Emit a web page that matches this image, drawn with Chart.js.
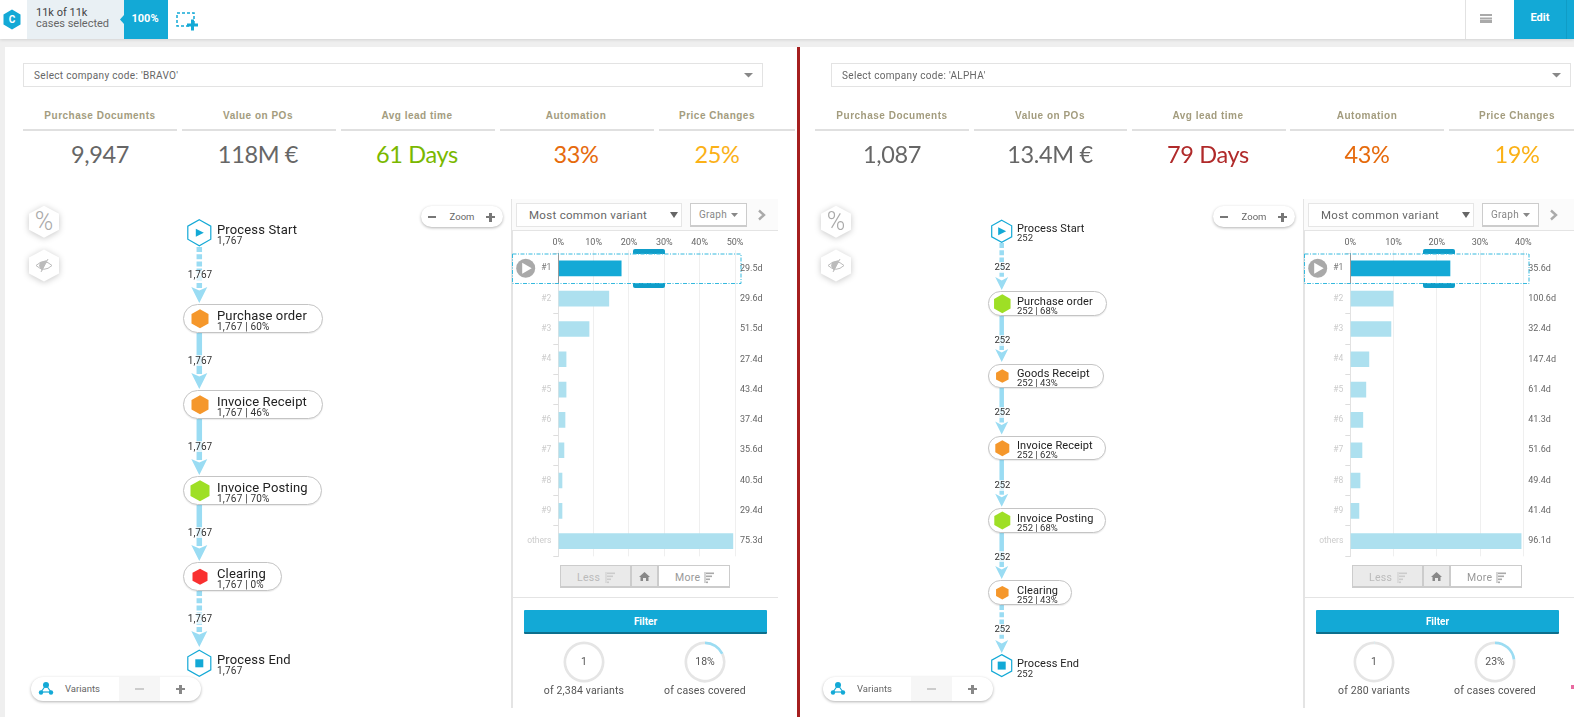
<!DOCTYPE html>
<html><head><meta charset="utf-8">
<script src="https://cdn.jsdelivr.net/npm/chart.js@4"></script>
<style>
html,body{margin:0;padding:0;width:1574px;height:717px;overflow:hidden;background:#efefef;font-family:Roboto,sans-serif}
#root{position:absolute;left:0;top:0;width:1574px;height:717px}
.b{position:absolute;box-sizing:border-box}
.t{position:absolute;white-space:nowrap;transform:translateY(-50%);line-height:1.2}
canvas{position:absolute;display:block}
svg{position:absolute;left:0;top:0}
</style></head><body><div id="root"></div>
<script>
// ---------- data ----------
const variantLabels = ['#1','#2','#3','#4','#5','#6','#7','#8','#9','others'];
const bravoShares = [17.8,14.3,8.7,2.2,2.2,1.9,1.6,1.05,1.05,49.4];
const bravoDurations = ['29.5d','29.6d','51.5d','27.4d','43.4d','37.4d','35.6d','40.5d','29.4d','75.3d'];
const alphaShares = [23.05,9.9,9.4,4.3,3.6,2.9,2.7,2.25,2.0,39.5];
const alphaDurations = ['35.6d','100.6d','32.4d','147.4d','61.4d','41.3d','51.6d','49.4d','41.4d','96.1d'];
const kpiTitles = ['Purchase Documents','Value on POs','Avg lead time','Automation','Price Changes'];
const bravoKpis = ['9,947','118M €','61 Days','33%','25%'];
const alphaKpis = ['1,087','13.4M €','79 Days','43%','19%'];
const bravoVariantsTotal = 2384, alphaVariantsTotal = 280, variantsSelected = 1;
const bravoCovered = 18, alphaCovered = 23;
const bravoSteps = [['Process Start','1,767',''],['Purchase order','1,767 | 60%','o'],['Invoice Receipt','1,767 | 46%','o'],['Invoice Posting','1,767 | 70%','g'],['Clearing','1,767 | 0%','r'],['Process End','1,767','']];
const alphaSteps = [['Process Start','252',''],['Purchase order','252 | 68%','g'],['Goods Receipt','252 | 43%','o'],['Invoice Receipt','252 | 62%','o'],['Invoice Posting','252 | 68%','g'],['Clearing','252 | 43%','o'],['Process End','252','']];
const bravoEdge = '1,767', alphaEdge = '252';

// ---------- helpers ----------
const BLUE='#13a9d6', root=document.getElementById('root');
function box(x,y,w,h,css){const d=document.createElement('div');d.className='b';d.style.cssText=`left:${x}px;top:${y}px;width:${w}px;height:${h}px;${css||''}`;root.appendChild(d);return d}
function txt(s,x,y,size,color,o){o=o||{};const d=document.createElement('div');d.className='t';d.textContent=s;
 const tx=o.align==='c'?'translate(-50%,-50%)':o.align==='r'?'translate(-100%,-50%)':'translateY(-50%)';
 d.style.cssText=`left:${x}px;top:${y}px;font-size:${size}px;color:${color};transform:${tx};font-weight:${o.w||400};font-family:${o.f||'Roboto,sans-serif'};letter-spacing:${o.ls||0}px`;root.appendChild(d);return d}
const NS='http://www.w3.org/2000/svg';
function svgLayer(){const s=document.createElementNS(NS,'svg');s.setAttribute('width',1574);s.setAttribute('height',717);root.appendChild(s);return s}
function add(s,n,a){const e=document.createElementNS(NS,n);for(const k in a)e.setAttribute(k,a[k]);s.appendChild(e);return e}
function hexPts(cx,cy,w,h){const q=h/4,hw=w/2,hh=h/2;return [[cx,cy-hh],[cx+hw,cy-q],[cx+hw,cy+q],[cx,cy+hh],[cx-hw,cy+q],[cx-hw,cy-q]].map(p=>p.join(',')).join(' ')}

// ---------- page frame ----------
box(5,47,792,670,'background:#fff');
box(800,47,774,670,'background:#fff');
box(797,47,3,670,'background:#a51f1f');
box(0,0,1574,39,'background:#fff;box-shadow:0 1px 3px rgba(0,0,0,.12)');
box(27,0,97,39,'background:#e9f0f4');
box(124,0,44,39,'background:'+BLUE);
box(1465,0,1,39,'background:#e2e2e2');
box(1514,0,60,39,'background:'+BLUE);
box(1566,0,1,39,'background:#0f9cc6');
const s0=svgLayer();
add(s0,'polygon',{points:hexPts(12,19.5,17,20),fill:BLUE});
add(s0,'polygon',{points:'120,19.5 124,15 124,24',fill:BLUE});
add(s0,'rect',{x:177,y:13,width:17,height:13,fill:'none',stroke:BLUE,'stroke-width':1.5,'stroke-dasharray':'3 2'});
add(s0,'rect',{x:187,y:23.5,width:11,height:3,fill:BLUE});
add(s0,'rect',{x:191,y:19.5,width:3,height:11,fill:BLUE});
for(const y of [14,17.5,20]) add(s0,'rect',{x:1480,y:y,width:12,height:y===20?3:2,fill:'#aaa'});
txt('11k of 11k',36,13,11,'#444');
txt('cases selected',36,24,11,'#666');
txt('100%',145,19,11,'#fff',{align:'c',w:700});
txt('C',12,19.5,10,'#fff',{align:'c',w:700});
txt('Edit',1540,18,11,'#fff',{align:'c',w:700});

// ---------- one side of the dashboard ----------
function side(cfg){
 const ox=cfg.ox;
 // selector
 box(cfg.selL,63,cfg.selR-cfg.selL,24,'background:#fff;border:1px solid #e3e3e3');
 txt(cfg.selText,cfg.selL+11,75.5,10,'#666',{ls:.32});
 const s=svgLayer();
 add(s,'polygon',{points:`${cfg.selR-19},73 ${cfg.selR-10},73 ${cfg.selR-14.5},77.5`,fill:'#888'});
 // KPI strip
 const colors=cfg.kpiColors;
 kpiTitles.forEach((k,i)=>{
  txt(k,cfg.kpiCx[i],115.5,10,'#a39c7e',{align:'c',w:700,ls:.5,f:'"Liberation Sans",sans-serif'});
  box(cfg.kpiL[i],129,cfg.kpiW[i],1.5,'background:#e0e0e0');
  txt(cfg.kpis[i],cfg.kpiCx[i],153.5,23.5,colors[i],{align:'c',w:400,ls:-.35,f:'Lato,sans-serif'});
 });
 // round helpers
 for(const [cy,h] of [[221.7,32],[265.5,32]]){
  add(s,'polygon',{points:hexPts(cfg.hexX,cy,30,h),fill:'#fff',style:'filter:drop-shadow(0 1px 3px rgba(0,0,0,.22))'});
 }
 txt('%',cfg.hexX,221.5,25,'#aaa',{align:'c',w:300});
 add(s,'path',{d:`M${cfg.hexX-8} 265.5 Q${cfg.hexX} 258 ${cfg.hexX+8} 265.5 Q${cfg.hexX} 273 ${cfg.hexX-8} 265.5Z`,fill:'none',stroke:'#bbb','stroke-width':1});
 add(s,'path',{d:`M${cfg.hexX-4} 262 L${cfg.hexX+3} 260 L${cfg.hexX-2} 271 L${cfg.hexX-5} 266Z`,fill:'#bbb'});
 add(s,'line',{x1:cfg.hexX+4,y1:259,x2:cfg.hexX-3,y2:272,stroke:'#bbb','stroke-width':1});
 // zoom pill
 box(cfg.zoomX,206,82,21,'background:#fff;border-radius:11px;box-shadow:0 1px 3px rgba(0,0,0,.3)');
 box(cfg.zoomX+7,216,8,2,'background:#777');
 txt('Zoom',cfg.zoomX+41,216.5,9.5,'#666',{align:'c'});
 box(cfg.zoomX+65,216,9,2.4,'background:#777');box(cfg.zoomX+68.3,212.6,2.4,9,'background:#777');
 // variants pill
 box(31+ox,677,170,24,'background:#fff;border-radius:12px;box-shadow:0 1px 3px rgba(0,0,0,.3)');
 box(119+ox,677,41,24,'background:#f6f6f6');
 const ic=svgLayer();
 add(ic,'line',{x1:46+ox,y1:685,x2:41+ox,y2:692,stroke:BLUE,'stroke-width':1.2});
 add(ic,'line',{x1:46+ox,y1:685,x2:51+ox,y2:692,stroke:BLUE,'stroke-width':1.2});
 add(ic,'line',{x1:41+ox,y1:692,x2:51+ox,y2:692,stroke:BLUE,'stroke-width':1.2});
 add(ic,'circle',{cx:46+ox,cy:685,r:3,fill:BLUE});add(ic,'circle',{cx:41+ox,cy:692.5,r:2.2,fill:BLUE});add(ic,'circle',{cx:51+ox,cy:692.5,r:2.2,fill:BLUE});
 txt('Variants',65+ox,688.5,9.5,'#666');
 box(135+ox,688,9,2.4,'background:#ccc');
 box(176+ox,688,9,2.4,'background:#888');box(179.3+ox,684.7,2.4,9,'background:#888');
 // right panel chrome
 const px=ox+512;
 box(px-1,199,1.5,509,'background:#e4e4e4');
 box(px,199,cfg.panelR-px,32,'background:#fbfbfb;border-bottom:1px solid #e4e4e4');
 box(px,597,cfg.panelR-px,1,'background:#e4e4e4');
 box(516+ox,203,166,23.5,'background:#fff;border:1px solid #e6e6e6');
 txt('Most common variant',529+ox,215.5,11.5,'#666',{ls:.3});
 box(690+ox,203,56.5,24,'background:#fff;border:1px solid #ccc;border-bottom:2px solid #ccc');
 txt('Graph',699+ox,215,10,'#888',{ls:.3});
 const p=svgLayer();
 add(p,'polygon',{points:`${670+ox},212 ${678+ox},212 ${674+ox},218`,fill:'#666'});
 add(p,'polygon',{points:`${731+ox},213 ${738+ox},213 ${734.5+ox},217`,fill:'#888'});
 add(p,'polyline',{points:`${759+ox},210.5 ${764+ox},215 ${759+ox},219.5`,fill:'none',stroke:'#aaa','stroke-width':2.4});
 // Less / More
 box(560+ox,565,71,23,'background:#eaeaea;border:1px solid #ccc;border-bottom:2px solid #ccc');
 box(631+ox,565,27,23,'background:#eaeaea;border:1px solid #ccc;border-bottom:2px solid #ccc');
 box(658+ox,565,72,23,'background:#fff;border:1px solid #ccc;border-bottom:2px solid #ccc');
 txt('Less',577+ox,577.5,10.5,'#bbb',{ls:.3});
 txt('More',675+ox,577.5,10.5,'#999',{ls:.3});
 const p2=svgLayer();
 add(p2,'path',{d:`M${639+ox} 577 L${644.5+ox} 572 L${650+ox} 577 L${648.5+ox} 577 L${648.5+ox} 581 L${646+ox} 581 L${646+ox} 578 L${643+ox} 578 L${643+ox} 581 L${640.5+ox} 581 L${640.5+ox} 577Z`,fill:'#888'});
 for(const [bx,col] of [[606+ox,'#ccc'],[705+ox,'#aaa']]){
  add(p2,'line',{x1:bx,y1:572,x2:bx,y2:583,stroke:col,'stroke-width':1});
  [[8,572.5],[6,575.5],[4,578.5],[2,581.5]].forEach(([w,y])=>add(p2,'rect',{x:bx+1,y:y,width:w,height:1.6,fill:col}));
 }
 // Filter button
 box(cfg.filterL,610,243,24,'background:'+BLUE+';border-bottom:2px solid #0d6f8d;border-radius:1px');
 txt('Filter',cfg.filterL+121.5,621.5,10,'#fff',{align:'c',w:700});

 // ---- variant bars through Chart.js ----
 const c=document.createElement('canvas');root.appendChild(c);
 const cL=513+ox,cT=225,cW=cfg.canvasW,cH=335;
 c.width=cW;c.height=cH;c.style.width=cW+'px';c.style.height=cH+'px';
 c.style.left=cL+'px';c.style.top=cT+'px';
 const fixW=(w)=>({afterFit(sc){sc.width=w;sc.paddingTop=0;sc.paddingBottom=0}});
 const rowMark={id:'rowMark',afterDraw(ch){const x=ch.scales.x.getPixelForValue(0),y=ch.scales.y,g=ch.ctx,hb=(y.getPixelForValue(1)-y.getPixelForValue(0))/2,yc=y.getPixelForValue(0);
  g.save();g.strokeStyle='#9a9a9a';g.lineWidth=1;g.beginPath();g.moveTo(Math.round(x)+.5,yc-hb);g.lineTo(Math.round(x)+.5,yc+hb);g.stroke();g.restore()}};
 new Chart(c,{type:'bar',
  data:{labels:variantLabels,datasets:[{data:cfg.shares,barThickness:15,backgroundColor:(x)=>x.dataIndex===0?BLUE:'#ade0ef',xAxisID:'x',yAxisID:'y'}]},
  plugins:[rowMark],
  options:{indexAxis:'y',responsive:false,animation:false,events:[],devicePixelRatio:1,
   layout:{padding:{top:0,left:0,right:0,bottom:3.7}},
   plugins:{legend:{display:false},tooltip:{enabled:false}},
   scales:{
    x:{position:'top',min:0,max:cfg.xMax,afterFit(sc){sc.height=28.2},
     ticks:{stepSize:10,maxRotation:0,padding:2,color:'#666',font:{size:9,family:'Roboto'},callback:v=>v+'%'},
     grid:{color:'#efefef',tickColor:'#efefef',tickLength:3},border:{display:false}},
    y:{position:'left',...fixW(cfg.yW),
     ticks:{autoSkip:false,padding:2,color:(x)=>x.index===0?'#777':'#ccc',font:{size:8.5,family:'Roboto'}},
     grid:{drawOnChartArea:false,color:'#ddd',tickColor:'#ddd',tickLength:5},border:{color:'#e2e2e2'}},
    y2:{type:'category',position:'right',labels:cfg.durations,offset:true,...fixW(cW-cfg.yW-cfg.plotW),
     ticks:{autoSkip:false,padding:5,crossAlign:'near',color:'#666',font:{size:9,family:'Roboto'}},
     grid:{display:false,drawTicks:false,tickLength:0},border:{display:false}}
   }}});
 // selection frame over the chart
 box(633.3+ox+cfg.tabDx,249,31.7,5,'background:#0f9dc9;border-radius:2px 2px 0 0');
 box(633.3+ox+cfg.tabDx,283,31.7,5,'background:#0f9dc9;border-radius:0 0 2px 2px');
 const o=svgLayer();
 add(o,'rect',{x:cfg.frameL+.5,y:254,width:cfg.frameW,height:29.5,fill:'none',stroke:'#35b9de','stroke-width':1,'stroke-dasharray':'4 1.5 1 1.5'});
 add(o,'circle',{cx:cfg.playX,cy:268.3,r:9.5,fill:'#a9a9a9'});
 add(o,'polygon',{points:`${cfg.playX-3.5},262.8 ${cfg.playX+6},268.3 ${cfg.playX-3.5},273.8`,fill:'#fff'});

 // ---- coverage rings through Chart.js ----
 [[cfg.ringA,[variantsSelected,cfg.variantsTotal-variantsSelected],String(variantsSelected),'of '+cfg.variantsTotal.toLocaleString('en-US')+' variants'],
  [cfg.ringB,[cfg.covered,100-cfg.covered],cfg.covered+'%','of cases covered']].forEach(([cx,vals,center,cap])=>{
  const r=document.createElement('canvas');root.appendChild(r);r.style.left=(cx-22)+'px';r.style.top='639.7px';
  r.width=44;r.height=44;r.style.width='44px';r.style.height='44px';
  new Chart(r,{type:'doughnut',data:{datasets:[{data:vals,backgroundColor:['#9bdcf2','#e5e5e5'],borderWidth:0}]},
   options:{responsive:false,animation:false,events:[],devicePixelRatio:1,cutout:'87%',layout:{padding:1.5},plugins:{legend:{display:false},tooltip:{enabled:false}}}});
  txt(center,cx,661.7,10.5,'#555',{align:'c'});
  txt(cap,cx,691.3,10.5,'#555',{align:'c',ls:.15});
 });

 // ---- process flow ----
 const f=svgLayer(),L=cfg.flow,st=cfg.steps;
 const EC='#9adcf3';
 st.forEach((n,i)=>{
  const g=L.geom[i];
  if(i<st.length-1){
   const dashed=(i===0||i===st.length-2);
   add(f,'line',{x1:L.x,y1:g.out,x2:L.x,y2:L.geom[i+1].tip-L.ah+1,stroke:EC,'stroke-width':L.sw,...(dashed?{'stroke-dasharray':'5 2.2'}:{})});
   const tip=L.geom[i+1].tip;
   add(f,'polygon',{points:`${L.x-L.ah/2},${tip-L.ah} ${L.x},${tip-L.ah+3.5} ${L.x+L.ah/2},${tip-L.ah} ${L.x},${tip}`,fill:EC});
   const ly=L.labels[i];
   box(L.x-L.lw/2,ly-5.5,L.lw,11,'background:rgba(255,255,255,.72)');
   txt(cfg.edge,L.x+.7,ly,L.ls,'#333',{align:'c'});
  }
 });
 st.forEach((n,i)=>{
  const g=L.geom[i],isEnd=(i===0||i===st.length-1);
  if(!isEnd){
   box(L.pillL,g.y,g.r-L.pillL,L.ph,'background:#fff;border:1px solid #c4c4c4;border-radius:'+L.ph/2+'px;box-shadow:0 1px 1px rgba(0,0,0,.08)');
  }
 });
 const f2=svgLayer();
 const COL={o:'#f5972b',g:'#9edf25',r:'#f93030'};
 st.forEach((n,i)=>{
  const g=L.geom[i],isEnd=(i===0||i===st.length-1);
  if(isEnd){
   add(f2,'polygon',{points:hexPts(L.x,g.cy,L.ew,L.eh),fill:'#fff',stroke:BLUE,'stroke-width':1.2});
   if(i===0) add(f2,'polygon',{points:`${L.x-3.5},${g.cy-4} ${L.x+4.5},${g.cy} ${L.x-3.5},${g.cy+4}`,fill:BLUE});
   else add(f2,'rect',{x:L.x-4,y:g.cy-4,width:8,height:8,fill:BLUE});
  }else{
   add(f2,'polygon',{points:hexPts(L.hx,g.cy,g.hw,g.hh),fill:COL[n[2]]});
  }
  txt(n[0],L.tx,g.ty+.8,L.fs,'#222',{ls:L.tls});
  txt(n[1],L.tx,g.sy+.6,L.ss,'#333',{ls:L.sls});
 });
}

const leftFlow={x:199.3,hx:200,tx:217,sw:5.5,ah:16,lw:26,ls:10,ph:29,pillL:183.3,fs:13,tls:.15,ss:10,sls:.2,ew:23,eh:26,
 labels:[275,360.7,446.7,532.7,618.7],
 geom:[{cy:232.7,ty:229.3,sy:240.7,out:247,tip:303},
  {y:304.3,r:323.3,cy:318.7,ty:314.9,sy:326.2,hw:17,hh:19,out:333,tip:303},
  {y:390.3,r:323.3,cy:404.7,ty:400.9,sy:412.2,hw:17,hh:19,out:419,tip:389},
  {y:476.3,r:322.5,cy:490.7,ty:486.9,sy:498.2,hw:19,hh:21,out:505,tip:475},
  {y:562.3,r:282.3,cy:576.7,ty:572.9,sy:584.2,hw:15,hh:16,out:591,tip:561},
  {cy:663.3,ty:659.3,sy:670.7,tip:647}]};
const rightFlow={x:1001.7,hx:1002.3,tx:1017,sw:4.5,ah:13,lw:18,ls:9.5,ph:24.7,pillL:988.3,fs:11,tls:.1,ss:9.5,sls:0,ew:20,eh:22,
 labels:[267,340,412,485,556.5,629],
 geom:[{cy:231.3,ty:228.3,sy:237.7,out:243,tip:290},
  {y:291.3,r:1106.7,cy:303.7,ty:301,sy:310.3,hw:16.5,hh:19,out:316,tip:290},
  {y:363.5,r:1103.7,cy:376,ty:373.2,sy:382.5,hw:12.5,hh:13.5,out:388,tip:362},
  {y:435.8,r:1106,cy:448.2,ty:445.5,sy:454.8,hw:14,hh:16,out:460,tip:434.5},
  {y:508,r:1106,cy:520.4,ty:517.7,sy:527,hw:16,hh:18,out:532,tip:506.7},
  {y:580.3,r:1072,cy:592.7,ty:590,sy:599.3,hw:12.5,hh:13.5,out:605,tip:579},
  {cy:665.6,ty:663.6,sy:673.7,tip:653}]};

side({ox:0,selL:23,selR:763,selText:"Select company code: 'BRAVO'",kpis:bravoKpis,
 kpiColors:['#666','#666','#7ab800','#e66a0c','#fbb117'],
 kpiCx:[100,258,417,576,717],kpiL:[23,182,341,500,659],kpiW:[154,154,154,154,136],
 hexX:44,zoomX:421,panelR:778,filterL:524,tabDx:0,
 shares:bravoShares,durations:bravoDurations,xMax:50,yW:45.3,plotW:176.7,canvasW:280,
 frameL:512,frameW:228.5,playX:525.7,ringA:584,ringB:705,variantsTotal:bravoVariantsTotal,covered:bravoCovered,
 steps:bravoSteps,edge:bravoEdge,flow:leftFlow});
side({ox:792,selL:831,selR:1571,selText:"Select company code: 'ALPHA'",kpis:alphaKpis,
 kpiColors:['#666','#666','#b02a2a','#e66a0c','#fbb117'],
 kpiCx:[892,1050,1208,1367,1517],kpiL:[815,974,1132,1290,1449],kpiW:[154,153,154,154,125],
 hexX:836,zoomX:1213,panelR:1574,filterL:1316,tabDx:-2,
 shares:alphaShares,durations:alphaDurations,xMax:40,yW:45.3,plotW:173,canvasW:262,
 frameL:1304,frameW:224.5,playX:1317.7,ringA:1374,ringB:1495,variantsTotal:alphaVariantsTotal,covered:alphaCovered,
 steps:alphaSteps,edge:alphaEdge,flow:rightFlow});
box(1571,685,3,4,'background:#e86aa0');
</script></body></html>
